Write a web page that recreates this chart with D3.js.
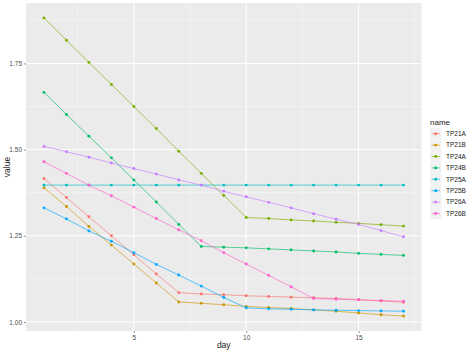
<!DOCTYPE html>
<meta charset="utf-8">
<script src="https://d3js.org/d3.v7.min.js"></script>
<style>
  body { margin: 0; background: #fff; }
  text { font-family: "Liberation Sans", Arial, sans-serif; }
</style>
<div id="my_dataviz"></div>
<script>

// data
var days = d3.range(1, 18);
var names = ["TP21A", "TP21B", "TP24A", "TP24B", "TP25A", "TP25B", "TP26A", "TP26B"];
var colors = ["#F8766D", "#CD9600", "#7CAE00", "#00BE67", "#00BFC4", "#00A9FF", "#C77CFF", "#FF61CC"];

var TP21A = [1.416, 1.361, 1.305, 1.250, 1.195, 1.139, 1.085, 1.081, 1.079, 1.076, 1.074, 1.072, 1.070, 1.068, 1.065, 1.061, 1.057];
var TP21B = [1.389, 1.335, 1.277, 1.223, 1.168, 1.113, 1.058, 1.054, 1.050, 1.045, 1.042, 1.039, 1.035, 1.031, 1.026, 1.021, 1.017];
var TP24A = [1.882, 1.817, 1.753, 1.689, 1.625, 1.561, 1.495, 1.431, 1.367, 1.303, 1.300, 1.296, 1.293, 1.289, 1.286, 1.282, 1.278];
var TP24B = [1.666, 1.602, 1.539, 1.476, 1.412, 1.348, 1.283, 1.219, 1.217, 1.215, 1.212, 1.209, 1.206, 1.203, 1.199, 1.196, 1.193];
var TP25A = [1.397, 1.397, 1.397, 1.397, 1.397, 1.397, 1.397, 1.397, 1.397, 1.397, 1.397, 1.397, 1.397, 1.397, 1.397, 1.397, 1.397];
var TP25B = [1.331, 1.299, 1.264, 1.234, 1.201, 1.167, 1.136, 1.104, 1.071, 1.041, 1.038, 1.037, 1.035, 1.034, 1.033, 1.032, 1.031];
var TP26A = [1.509, 1.494, 1.478, 1.461, 1.445, 1.429, 1.412, 1.397, 1.379, 1.363, 1.347, 1.331, 1.314, 1.298, 1.283, 1.265, 1.247];
var TP26B = [1.465, 1.431, 1.397, 1.366, 1.333, 1.300, 1.267, 1.236, 1.201, 1.168, 1.135, 1.102, 1.068, 1.066, 1.064, 1.062, 1.060];

var xTicks = [5, 10, 15];
var yTicks = [1.00, 1.25, 1.50, 1.75];

var values = [TP21A, TP21B, TP24A, TP24B, TP25A, TP25B, TP26A, TP26B];
var series = names.map(function(n, i) {
  return { name: n, color: colors[i], points: days.map(function(d, j) { return { day: d, value: values[i][j] }; }) };
});

// panel position
var W = 474, H = 353;
var panel = { left: 26, right: 421.5, top: 3, bottom: 331 };

var svg = d3.select("#my_dataviz")
  .append("svg")
    .attr("width", W)
    .attr("height", H);

// ggplot-like 5% expansion
var xe = d3.extent(days), xpad = (xe[1] - xe[0]) * 0.05;
var all = d3.merge(values);
var ye = d3.extent(all), ypad = (ye[1] - ye[0]) * 0.05;

var x = d3.scaleLinear().domain([xe[0] - xpad, xe[1] + xpad]).range([panel.left, panel.right]);
var y = d3.scaleLinear().domain([ye[0] - ypad, ye[1] + ypad]).range([panel.bottom, panel.top]);

// panel background
svg.append("rect")
  .attr("x", panel.left).attr("y", panel.top)
  .attr("width", panel.right - panel.left).attr("height", panel.bottom - panel.top)
  .attr("fill", "#EBEBEB");

// minor grid
var xMinor = [2.5, 7.5, 12.5, 17.5];
var yMinor = [1.125, 1.375, 1.625, 1.875];
svg.append("g").selectAll("line").data(xMinor).enter().append("line")
  .attr("x1", x).attr("x2", x).attr("y1", panel.top).attr("y2", panel.bottom)
  .attr("stroke", "#fff").attr("stroke-width", 0.5).attr("opacity", 0.8);
svg.append("g").selectAll("line").data(yMinor).enter().append("line")
  .attr("y1", y).attr("y2", y).attr("x1", panel.left).attr("x2", panel.right)
  .attr("stroke", "#fff").attr("stroke-width", 0.5).attr("opacity", 0.8);

// major grid
svg.append("g").selectAll("line").data(xTicks).enter().append("line")
  .attr("x1", x).attr("x2", x).attr("y1", panel.top).attr("y2", panel.bottom)
  .attr("stroke", "#fff").attr("stroke-width", 1);
svg.append("g").selectAll("line").data(yTicks).enter().append("line")
  .attr("y1", y).attr("y2", y).attr("x1", panel.left).attr("x2", panel.right)
  .attr("stroke", "#fff").attr("stroke-width", 1);

// axes
var xAxis = svg.append("g")
  .attr("transform", "translate(0," + panel.bottom + ")")
  .call(d3.axisBottom(x).tickValues(xTicks).tickSize(2).tickPadding(2).tickFormat(d3.format("d")));
var yAxis = svg.append("g")
  .attr("transform", "translate(" + panel.left + ",0)")
  .call(d3.axisLeft(y).tickValues(yTicks).tickSize(2).tickPadding(2).tickFormat(d3.format(".2f")));
[xAxis, yAxis].forEach(function(a) {
  a.select(".domain").remove();
  a.selectAll(".tick line").attr("stroke", "#333").attr("stroke-width", 0.5);
  a.selectAll(".tick text").attr("fill", "#4D4D4D").attr("font-size", 6.5)
    .style("font-family", "'Liberation Sans', Arial, sans-serif");
});

// axis titles
svg.append("text")
  .attr("x", (panel.left + panel.right) / 2).attr("y", 348)
  .attr("text-anchor", "middle").attr("font-size", 8.5).attr("fill", "#222")
  .text("day");
svg.append("text")
  .attr("transform", "translate(10," + ((panel.top + panel.bottom) / 2) + ") rotate(-90)")
  .attr("text-anchor", "middle").attr("font-size", 8.5).attr("fill", "#222")
  .text("value");

// lines and points
var line = d3.line()
  .x(function(d) { return x(d.day); })
  .y(function(d) { return y(d.value); });

var g = svg.append("g").selectAll("g").data(series).enter().append("g");
g.append("path")
  .attr("fill", "none")
  .attr("stroke", function(d) { return d.color; })
  .attr("stroke-width", 0.65)
  .attr("d", function(d) { return line(d.points); });
g.selectAll("circle")
  .data(function(d) { return d.points.map(function(p) { return { day: p.day, value: p.value, color: d.color }; }); })
  .enter().append("circle")
  .attr("cx", function(d) { return x(d.day); })
  .attr("cy", function(d) { return y(d.value); })
  .attr("r", 1.45)
  .attr("fill", function(d) { return d.color; });

// legend
var legend = svg.append("g").attr("transform", "translate(430,0)");
legend.append("text")
  .attr("x", 0).attr("y", 124.5)
  .attr("font-size", 8).attr("fill", "#222")
  .text("name");

var item = legend.selectAll("g.item").data(series).enter().append("g")
  .attr("class", "item")
  .attr("transform", function(d, i) { return "translate(0," + (128 + i * 11.4) + ")"; });
item.append("rect")
  .attr("x", 0).attr("y", 0).attr("width", 11.4).attr("height", 11.4)
  .attr("fill", "#F2F2F2");
item.append("line")
  .attr("x1", 1.5).attr("x2", 9.9).attr("y1", 5.7).attr("y2", 5.7)
  .attr("stroke", function(d) { return d.color; }).attr("stroke-width", 0.65);
item.append("circle")
  .attr("cx", 5.7).attr("cy", 5.7).attr("r", 1.45)
  .attr("fill", function(d) { return d.color; });
item.append("text")
  .attr("x", 16).attr("y", 5.7).attr("dy", "0.35em")
  .attr("font-size", 6.5).attr("fill", "#222")
  .text(function(d) { return d.name; });

</script>
